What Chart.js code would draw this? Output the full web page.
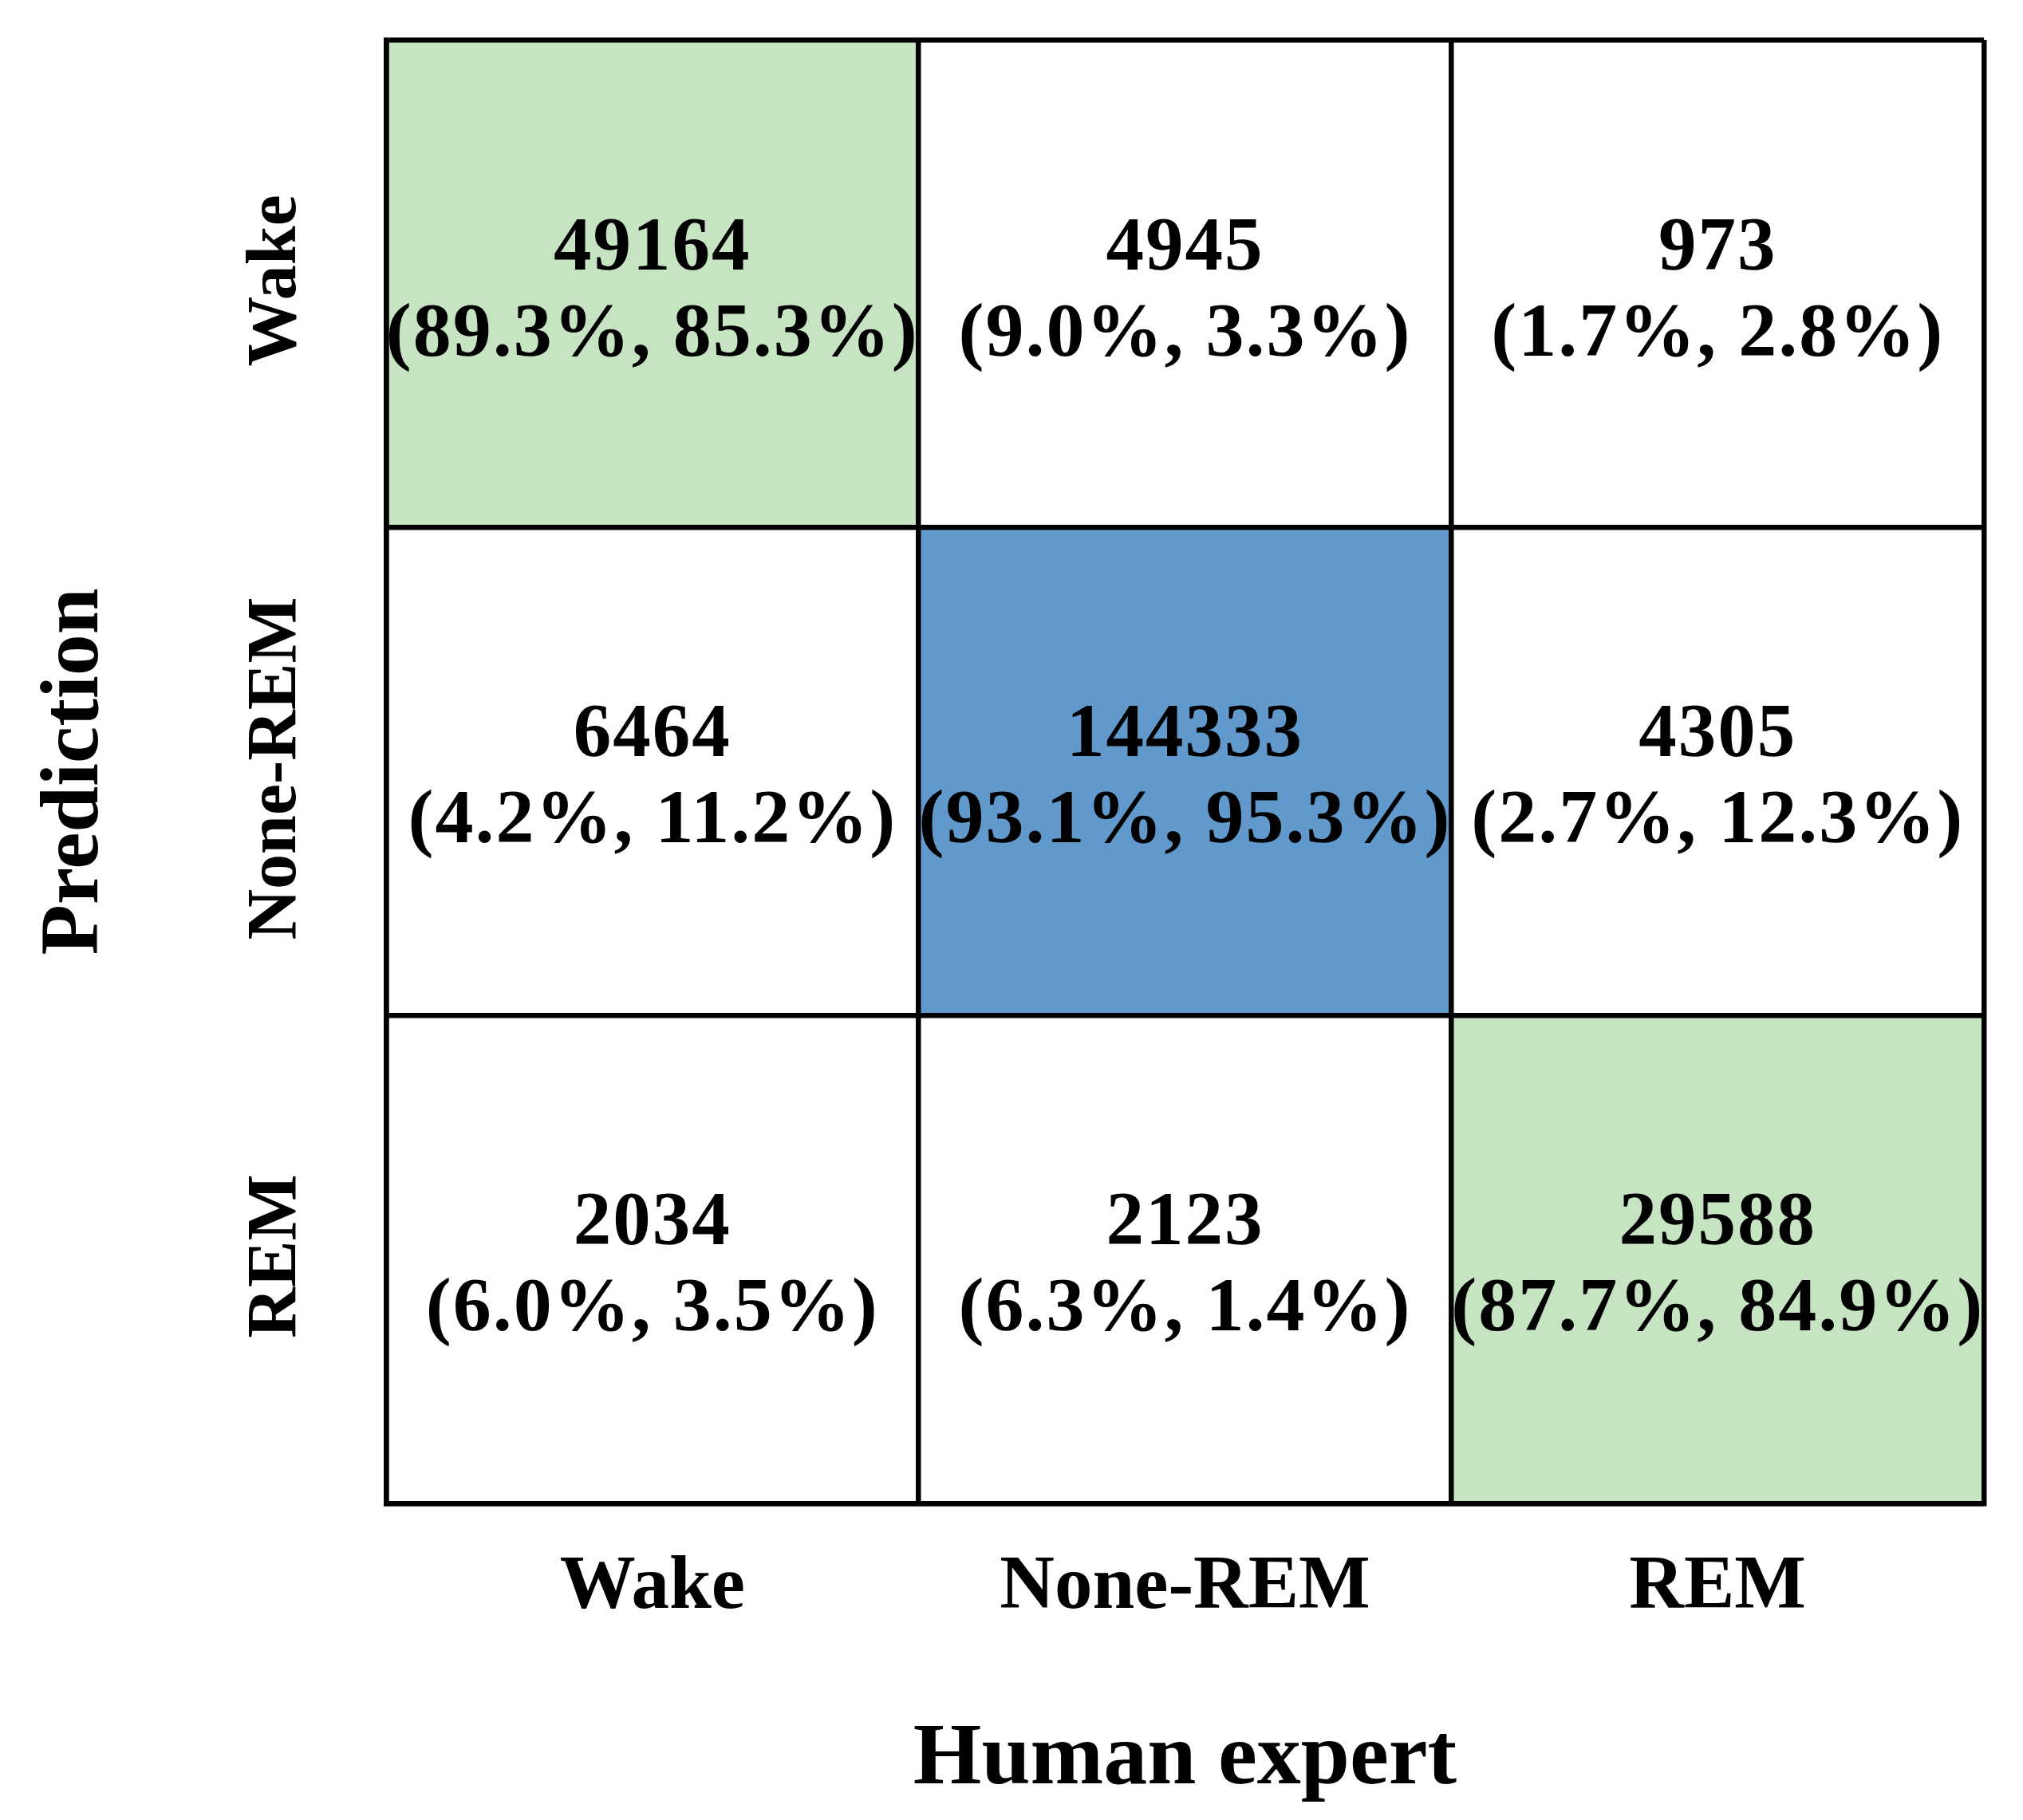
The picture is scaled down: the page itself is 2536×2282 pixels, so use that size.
<!DOCTYPE html>
<html>
<head>
<meta charset="utf-8">
<script src="https://cdn.jsdelivr.net/npm/chart.js@4.4.1/dist/chart.umd.min.js"></script>
<style>
html,body{margin:0;padding:0;background:#ffffff;overflow:hidden;}
canvas{display:block;}
</style>
</head>
<body>
<canvas id="c" width="2536" height="2282"></canvas>
<script>
// ---- data ----
const expertLabels = ['Wake', 'None-REM', 'REM'];      // columns: Human expert
const predictionLabels = ['Wake', 'None-REM', 'REM'];  // rows: Prediction
const countsWake   = [49164, 4945, 973];
const countsNonREM = [6464, 144333, 4305];
const countsREM    = [2034, 2123, 29588];
const rowPctWake   = [89.3, 9.0, 1.7];
const rowPctNonREM = [4.2, 93.1, 2.7];
const rowPctREM    = [6.0, 6.3, 87.7];
const colPctWake   = [85.3, 3.3, 2.8];
const colPctNonREM = [11.2, 95.3, 12.3];
const colPctREM    = [3.5, 1.4, 84.9];

const counts = [countsWake, countsNonREM, countsREM];
const rowPct = [rowPctWake, rowPctNonREM, rowPctREM];
const colPct = [colPctWake, colPctNonREM, colPctREM];

// ---- styles ----
const GREEN = '#c6e4c2';
const BLUE = '#6199cc';
const WHITE = '#ffffff';
const FONT = 'Liberation Serif, "Times New Roman", serif';
function cellFill(r, c) {
  if (r !== c) return WHITE;
  return r === 1 ? BLUE : GREEN;
}

const datasets = predictionLabels.map((rowLabel, r) => ({
  label: rowLabel,
  data: expertLabels.map((colLabel, c) => ({ x: colLabel, y: [r, r + 1] })),
  backgroundColor: (ctx) => cellFill(ctx.datasetIndex, ctx.dataIndex),
  borderWidth: 0
}));

const cellTextPlugin = {
  id: 'cellText',
  afterDatasetsDraw(chart) {
    const ctx = chart.ctx;
    ctx.save();
    ctx.fillStyle = '#000';
    ctx.textAlign = 'center';
    ctx.textBaseline = 'middle';
    chart.data.datasets.forEach((ds, r) => {
      const meta = chart.getDatasetMeta(r);
      meta.data.forEach((bar, c) => {
        const p = bar.getProps(['x', 'y', 'base'], true);
        const cy = (p.y + p.base) / 2;
        ctx.font = 'bold 95px ' + FONT;
        if ('letterSpacing' in ctx) ctx.letterSpacing = '2px';
        ctx.fillText(String(counts[r][c]), p.x, cy - 44);
        ctx.font = 'bold 96px ' + FONT;
        if ('letterSpacing' in ctx) ctx.letterSpacing = '2px';
        ctx.fillText('(' + rowPct[r][c].toFixed(1) + '%, ' + colPct[r][c].toFixed(1) + '%)', p.x, cy + 64);
      });
    });
    if ('letterSpacing' in ctx) ctx.letterSpacing = '0px';
    ctx.restore();
  }
};

const rowLabelPlugin = {
  id: 'rowLabels',
  afterDraw(chart) {
    const ctx = chart.ctx;
    const y = chart.scales.y;
    ctx.save();
    ctx.fillStyle = '#000';
    ctx.textAlign = 'center';
    ctx.textBaseline = 'middle';
    ctx.font = 'bold 88px ' + FONT;
    predictionLabels.forEach((lab, r) => {
      ctx.save();
      ctx.translate(chart.chartArea.left - 137, y.getPixelForValue(r + 0.5) - 4);
      ctx.rotate(-Math.PI / 2);
      ctx.fillText(lab, 0, 0);
      ctx.restore();
    });
    ctx.restore();
  }
};

new Chart(document.getElementById('c'), {
  type: 'bar',
  data: { labels: expertLabels, datasets },
  options: {
    responsive: false,
    devicePixelRatio: 1,
    animation: false,
    layout: { padding: { left: 0, top: 50, right: 49, bottom: 0 } },
    plugins: { legend: { display: false }, tooltip: { enabled: false } },
    datasets: { bar: { grouped: false, categoryPercentage: 1, barPercentage: 1 } },
    scales: {
      x: {
        type: 'category',
        position: 'bottom',
        offset: true,
        grid: { offset: true, color: '#000', lineWidth: 6.5, drawTicks: false, z: 1 },
        border: { display: true, color: '#000', width: 6.5, z: 1 },
        ticks: { color: '#000', font: { family: FONT, weight: 'bold', size: 95 }, padding: 49, maxRotation: 0, autoSkip: false },
        title: { display: true, text: 'Human expert', color: '#000', font: { family: FONT, weight: 'bold', size: 110 }, padding: { top: 0, bottom: 8 } },
        afterFit: (s) => { s.height = 397; }
      },
      y: {
        type: 'linear',
        min: 0,
        max: 3,
        reverse: true,
        ticks: { stepSize: 1, display: false },
        grid: { color: '#000', lineWidth: 6.5, drawTicks: false, z: 1 },
        border: { display: true, color: '#000', width: 6.5, z: 1 },
        title: { display: true, text: 'Prediction', color: '#000', font: { family: FONT, weight: 'bold', size: 104 }, padding: { top: 33, bottom: 0 } },
        afterFit: (s) => { s.width = 484; }
      }
    }
  },
  plugins: [cellTextPlugin, rowLabelPlugin]
});
</script>
</body>
</html>
